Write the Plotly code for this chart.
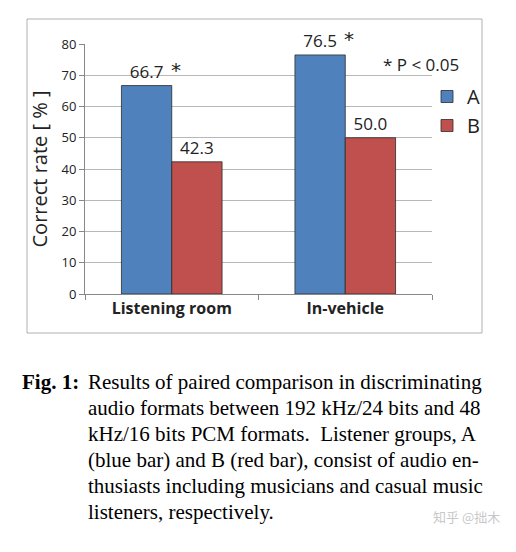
import plotly.graph_objects as go

# data
categories = ["Listening room", "In-vehicle"]
group_a = [66.7, 76.5]
group_b = [42.3, 50.0]
significant = [True, True]
caption_lines = [
    "Results of paired comparison in discriminating",
    "audio formats between 192 kHz/24 bits and 48",
    "kHz/16 bits PCM formats.  Listener groups, A",
    "(blue bar) and B (red bar), consist of audio en-",
    "thusiasts including musicians and casual music",
    "listeners, respectively.",
]

W, H = 516, 552
OFF = 8  # page body margin
L, R, T, B = 85 - OFF, 516 - 432 + OFF, 44 - OFF, 552 - 294 + OFF
pw, ph = W - L - R, H - T - B

# reference pixel -> paper coords
def px(x):
    return (x - OFF - L) / pw

def py(y):
    return (H - B - (y - OFF)) / ph

fig = go.Figure()
fig.add_trace(go.Bar(x=categories, y=group_a, name="A",
                     marker=dict(color="#4F81BD", line=dict(color="#2b2b2b", width=0.8)),
                     text=["%.1f" % v for v in group_a], textposition="outside",
                     textfont=dict(size=17, color="#222"), cliponaxis=False))
fig.add_trace(go.Bar(x=categories, y=group_b, name="B",
                     marker=dict(color="#C0504D", line=dict(color="#2b2b2b", width=0.8)),
                     text=["%.1f" % v for v in group_b], textposition="outside",
                     textfont=dict(size=17, color="#222"), cliponaxis=False))

annotations = []
for c, v, s in zip(categories, group_a, significant):
    if s:
        annotations.append(dict(x=c, y=v, text="*", showarrow=False, xshift=4,
                                yshift=16, font=dict(size=20, color="#222", family="DejaVu Sans"),
                                xanchor="center", yanchor="middle"))
annotations.append(dict(x=px(381), y=py(51), xref="paper", yref="paper",
                        text="* P < 0.05", showarrow=False, xanchor="left",
                        font=dict(size=17, color="#222")))
annotations.append(dict(x=px(81), y=py(396), xref="paper", yref="paper",
                        text="<b>Fig. 1:</b>", showarrow=False, xanchor="right",
                        font=dict(family="Liberation Serif", size=21, color="#000")))
for i, line in enumerate(caption_lines):
    annotations.append(dict(x=px(86), y=py(396 + 26 * i), xref="paper", yref="paper",
                            text=line, showarrow=False, xanchor="left",
                            font=dict(family="Liberation Serif", size=21, color="#000")))
annotations.append(dict(x=px(502), y=py(528), xref="paper", yref="paper",
                        text="知乎 @拙木", showarrow=False, xanchor="right",
                        font=dict(family="Noto Sans CJK SC", size=13, color="#c8c8c8")))

shapes = [dict(type="rect", xref="paper", yref="paper",
               x0=px(27), x1=px(482), y0=py(333), y1=py(19),
               line=dict(color="#b0b0b0", width=1))]

fig.update_layout(
    width=W, height=H,
    margin=dict(l=L, r=R, t=T, b=B, autoexpand=False),
    barmode="group", bargap=0.42, bargroupgap=0,
    paper_bgcolor="white", plot_bgcolor="white",
    font=dict(family="Open Sans", color="#222"),
    legend=dict(x=px(427), y=py(77), xanchor="left", yanchor="top",
                font=dict(size=20), itemwidth=30, tracegroupgap=8,
                bgcolor="rgba(0,0,0,0)"),
    annotations=annotations, shapes=shapes,
)
fig.update_yaxes(range=[0, 80], dtick=10, showgrid=True, gridcolor="#b8b8b8",
                 showline=True, linecolor="#888", ticks="outside", ticklen=5,
                 tickcolor="#888", tickfont=dict(size=13), automargin=False,
                 title=dict(text="Correct rate [ % ]", font=dict(size=20), standoff=8))
fig.update_xaxes(showline=True, linecolor="#888", ticks="outside", ticklen=5,
                 tickcolor="#888", tickson="boundaries", automargin=False,
                 tickfont=dict(size=16, family="Open Sans"),
                 tickvals=categories, ticktext=["<b>%s</b>" % c for c in categories])

fig.write_html("out.html")
